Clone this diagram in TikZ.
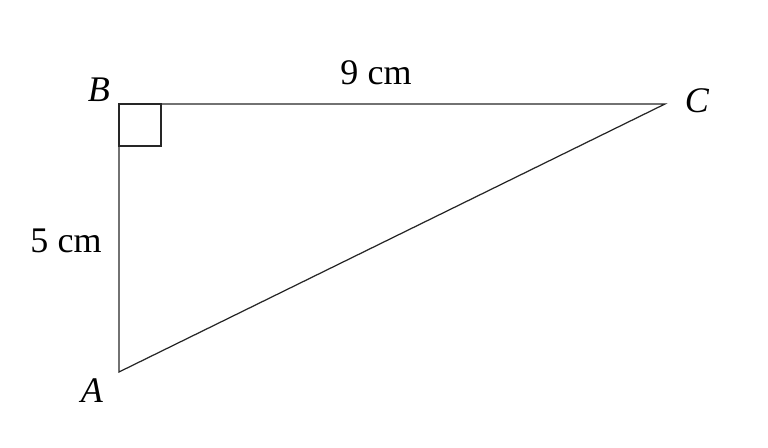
\documentclass[tikz,border=0pt]{standalone}
\usepackage{fontspec}
\setmainfont{Liberation Serif}
\usepackage{tikz}
\tikzstyle{side} = [line width=0.7pt, black!85]
\tikzstyle{lbl} = [inner sep=0pt, anchor=base, font=\fontsize{20.5}{24}\selectfont]

\begin{document}
\begin{tikzpicture}
		\useasboundingbox (0,0) rectangle (15.36,8.96);

		\coordinate (A) at (2.38,1.52);
		\coordinate (B) at (2.38,6.88);
		\coordinate (C) at (13.30,6.88);

		\draw[side] (A) -- (B) -- (C) -- cycle;
		\draw[side] (B) rectangle ++(0.84,-0.84);

		\node[lbl] (labB) at (1.98,6.92) {\textit{B}};
		\node[lbl] (labC) at (13.94,6.70) {\textit{C}};
		\node[lbl] (labA) at (1.84,0.90) {\textit{A}};

		\node[lbl] (lenBC) at (7.52,7.26) {9 cm};
		\node[lbl] (lenAB) at (1.32,3.90) {5 cm};

	\end{tikzpicture}
\end{document}
